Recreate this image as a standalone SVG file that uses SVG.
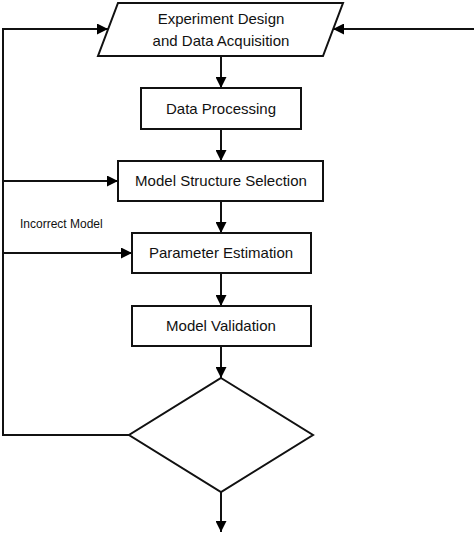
<svg xmlns="http://www.w3.org/2000/svg" width="474" height="533" viewBox="0 0 474 533">
<defs>
<marker id="ah" viewBox="0 0 10 10" refX="10" refY="5" markerWidth="11" markerHeight="11" markerUnits="userSpaceOnUse" orient="auto">
<path d="M0,0 L10,5 L0,10 z" fill="#000"/>
</marker>
<style>
.n{fill:#fff;stroke:#111;stroke-width:2}
.t{font-family:"Liberation Sans",Arial,sans-serif;font-size:15px;fill:#111;text-anchor:middle}
.l{font-family:"Liberation Sans",Arial,sans-serif;font-size:12px;fill:#111}
.c{fill:none;stroke:#111;stroke-width:2}
.a{marker-end:url(#ah)}
</style>
</defs>
<rect width="474" height="533" fill="#fff"/>
<g id="connectors">
<path class="c a" d="M221,56 L221,88"/>
<path class="c a" d="M221,129 L221,161"/>
<path class="c a" d="M221,201 L221,233"/>
<path class="c a" d="M221,273 L221,306"/>
<path class="c a" d="M221,346 L221,378"/>
<path class="c a" d="M221,492 L221,532"/>
<path class="c a" d="M474,29 L333,29"/>
<path class="c a" d="M129,435 L3,435 L3,29 L108,29"/>
<path class="c a" d="M3,181 L118,181"/>
<path class="c a" d="M3,253 L132,253"/>
</g>
<g id="experiment">
<polygon class="n" points="118,3 343,3 323,56 98,56"/>
<text class="t" x="221" y="24">Experiment Design</text>
<text class="t" x="221" y="46">and Data Acquisition</text>
</g>
<g id="processing">
<rect class="n" x="141" y="88" width="160" height="41"/>
<text class="t" x="221" y="114">Data Processing</text>
</g>
<g id="structure">
<rect class="n" x="118" y="161" width="205" height="40"/>
<text class="t" x="221" y="186">Model Structure Selection</text>
</g>
<g id="estimation">
<rect class="n" x="132" y="233" width="179" height="40"/>
<text class="t" x="221" y="258">Parameter Estimation</text>
</g>
<g id="validation">
<rect class="n" x="132" y="306" width="179" height="40"/>
<text class="t" x="221" y="331">Model Validation</text>
</g>
<g id="decision">
<polygon class="n" points="221,378 313,435 221,492 129,435"/>
</g>
<g id="label">
<text class="l" x="20" y="228">Incorrect Model</text>
</g>
</svg>
